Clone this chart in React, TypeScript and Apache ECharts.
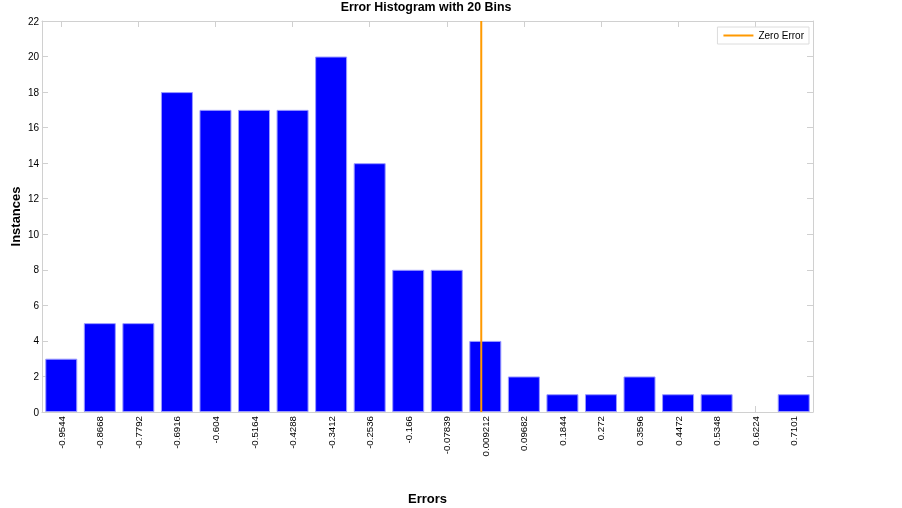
import React, { useEffect, useRef } from "react";
import * as echarts from "echarts";

const binCenters = [
  "-0.9544", "-0.8668", "-0.7792", "-0.6916", "-0.604", "-0.5164", "-0.4288",
  "-0.3412", "-0.2536", "-0.166", "-0.07839", "0.009212", "0.09682", "0.1844",
  "0.272", "0.3596", "0.4472", "0.5348", "0.6224", "0.7101",
];
const instances = [3, 5, 5, 18, 17, 17, 17, 20, 14, 8, 8, 4, 2, 1, 1, 2, 1, 1, 0, 1];
const binWidth = 0.0876;
const zeroErrorLine = [[0, 0], [0, 22]];
const yTicks = { min: 0, max: 22, interval: 2 };

const FONT = "Liberation Sans, Arial, sans-serif";
const AXIS_COLOR = "#d0d0d0";

export default function App() {
  const ref = useRef<HTMLDivElement>(null);
  useEffect(() => {
    if (!ref.current) return;
    const chart = echarts.init(ref.current, undefined, { renderer: "svg" });
    const first = parseFloat(binCenters[0]);
    const last = parseFloat(binCenters[binCenters.length - 1]);
    const axisLine = { show: true, onZero: false, lineStyle: { color: AXIS_COLOR } };
    const tick = { show: true, inside: true, length: 6, lineStyle: { color: AXIS_COLOR } };
    chart.setOption({
      animation: false,
      textStyle: { fontFamily: FONT },
      title: {
        text: "Error Histogram with 20 Bins",
        left: 426,
        textAlign: "center",
        top: 1,
        padding: 0,
        textStyle: { fontSize: 12.4, fontWeight: "bold", color: "#000", fontFamily: FONT },
      },
      legend: {
        right: 93,
        top: 27,
        orient: "vertical",
        data: [{ name: "Zero Error", icon: "rect" }],
        itemWidth: 30,
        itemHeight: 2,
        itemGap: 4,
        padding: [3, 5, 3, 6],
        borderColor: "#dcdcdc",
        borderWidth: 1,
        textStyle: { fontSize: 10, lineHeight: 11, color: "#000", fontFamily: FONT },
      },
      grid: { left: 42, right: 89, top: 21, bottom: 96, containLabel: false, outerBoundsMode: "none" },
      xAxis: [
        {
          type: "category",
          data: binCenters,
          position: "bottom",
          name: "Errors",
          nameLocation: "middle",
          nameGap: 80,
          nameMoveOverlap: false,
          nameTextStyle: { fontSize: 13, fontWeight: "bold", color: "#000", fontFamily: FONT },
          axisLine,
          axisTick: { ...tick, alignWithLabel: true },
          axisLabel: { rotate: 90, fontSize: 9.7, color: "#000", margin: 4, interval: 0, fontFamily: FONT },
          splitLine: { show: false },
        },
        {
          type: "category",
          data: binCenters,
          position: "top",
          axisLine,
          axisTick: { ...tick, alignWithLabel: true },
          axisLabel: { show: false },
          splitLine: { show: false },
        },
        {
          type: "value",
          min: first - binWidth / 2,
          max: last + binWidth / 2,
          show: false,
          axisLine: { show: false, onZero: false },
          splitLine: { show: false },
        },
      ],
      yAxis: [
        {
          type: "value",
          min: yTicks.min,
          max: yTicks.max,
          interval: yTicks.interval,
          position: "left",
          name: "Instances",
          nameLocation: "middle",
          nameGap: 20,
          nameMoveOverlap: false,
          nameTextStyle: { fontSize: 13, fontWeight: "bold", color: "#000", fontFamily: FONT },
          axisLine,
          axisTick: tick,
          axisLabel: { fontSize: 10, color: "#000", margin: 3, fontFamily: FONT },
          splitLine: { show: false },
        },
        {
          type: "value",
          min: yTicks.min,
          max: yTicks.max,
          interval: yTicks.interval,
          position: "right",
          axisLine,
          axisTick: tick,
          axisLabel: { show: false },
          splitLine: { show: false },
        },
      ],
      series: [
        {
          name: "Instances",
          type: "bar",
          xAxisIndex: 0,
          yAxisIndex: 0,
          data: instances.map((v) => (v === 0 ? { value: v, itemStyle: { borderWidth: 0 } } : v)),
          barCategoryGap: "17%",
          itemStyle: { color: "#0000ff", borderColor: "#9a9aff", borderWidth: 1 },
        },
        {
          name: "Zero Error",
          type: "line",
          xAxisIndex: 2,
          yAxisIndex: 0,
          data: zeroErrorLine,
          symbol: "none",
          lineStyle: { color: "#ff9900", width: 2 },
          itemStyle: { color: "#ff9900" },
          z: 5,
        },
      ],
    });
    return () => chart.dispose();
  }, []);
  return <div ref={ref} style={{ position: "fixed", left: 0, top: 0, width: 902, height: 508 }} />;
}
